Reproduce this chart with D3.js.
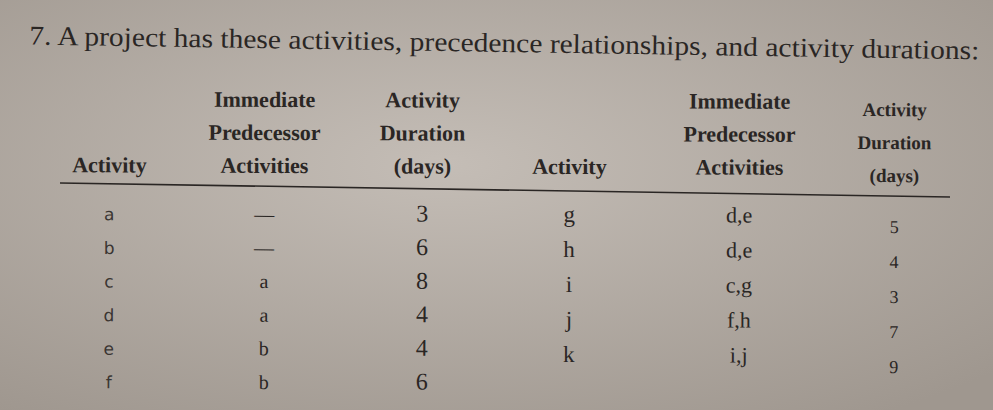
<!DOCTYPE html>
<html><head><meta charset="utf-8">
<script src="https://cdn.jsdelivr.net/npm/d3@7"></script>
<style>body{margin:0;background:#b3aba4}</style>
</head><body>
<svg id="chart" width="993" height="410"></svg>
<script>
const leftActivities = ['a', 'b', 'c', 'd', 'e', 'f'];
const leftPredecessors = ['—', '—', 'a', 'a', 'b', 'b'];
const leftDurations = [3, 6, 8, 4, 4, 6];
const rightActivities = ['g', 'h', 'i', 'j', 'k'];
const rightPredecessors = ['d,e', 'd,e', 'c,g', 'f,h', 'i,j'];
const rightDurations = [5, 4, 3, 7, 9];
const headers = [
  ['Activity'], ['Immediate', 'Predecessor', 'Activities'], ['Activity', 'Duration', '(days)'],
  ['Activity'], ['Immediate', 'Predecessor', 'Activities'], ['Activity', 'Duration', '(days)']
];
const title = '7. A project has these activities, precedence relationships, and activity durations:';

const svg = d3.select('#chart');
const defs = svg.append('defs');
const grad = defs.append('radialGradient').attr('id', 'bg').attr('cx', '45%').attr('cy', '40%').attr('r', '75%');
grad.append('stop').attr('offset', '0%').attr('stop-color', '#c4bdb6');
grad.append('stop').attr('offset', '100%').attr('stop-color', '#9f978f');
svg.append('rect').attr('width', 993).attr('height', 410).attr('fill', 'url(#bg)');

const ink = '#2a2624';

svg.append('text').attr('transform', 'rotate(0.9)').attr('x', 30).attr('y', 44).attr('fill', ink)
  .attr('font-family', 'Liberation Serif, serif').attr('font-size', 27)
  .attr('textLength', 950).attr('lengthAdjust', 'spacingAndGlyphs').text(title);

const g = svg.append('g').attr('transform', 'rotate(0.2)');
const colX = [110, 265, 423, 570, 740, 895];
const colDy = [0, 0, 0, 0, 0, 10];
const y = d3.scalePoint().domain(d3.range(6)).range([212, 380]);
const yr = d3.scalePoint().domain(d3.range(5)).range([212, 352]);

headers.forEach((lines, i) => {
  const n = lines.length;
  lines.forEach((l, j) => {
    g.append('text').attr('x', colX[i]).attr('y', 172 - (n - 1 - j) * 33 + colDy[i] * 0.7)
      .attr('text-anchor', 'middle').attr('fill', ink)
      .attr('font-family', 'Liberation Serif, serif').attr('font-weight', 'bold')
      .attr('font-size', i === 5 ? 19 : 22).text(l);
  });
});
svg.append('line').attr('x1', 60).attr('x2', 950).attr('y1', 183).attr('y2', 197)
  .attr('stroke', ink).attr('stroke-width', 1.6);

function col(values, ci, ys, opts) {
  g.selectAll(null).data(values).join('text')
    .attr('x', colX[ci]).attr('y', (d, i) => ys(i) + 8 + colDy[ci])
    .attr('text-anchor', 'middle').attr('fill', opts.fill || ink)
    .attr('font-family', opts.font || 'Liberation Serif, serif')
    .attr('font-size', opts.size).text(d => d);
}
col(leftActivities, 0, y, {size: 17, font: 'DejaVu Sans, sans-serif', fill: '#3a3532'});
col(leftPredecessors, 1, y, {size: 20});
col(leftDurations, 2, y, {size: 24});
col(rightActivities, 3, yr, {size: 23});
col(rightPredecessors, 4, yr, {size: 22});
col(rightDurations, 5, yr, {size: 18});
</script>
</body></html>
